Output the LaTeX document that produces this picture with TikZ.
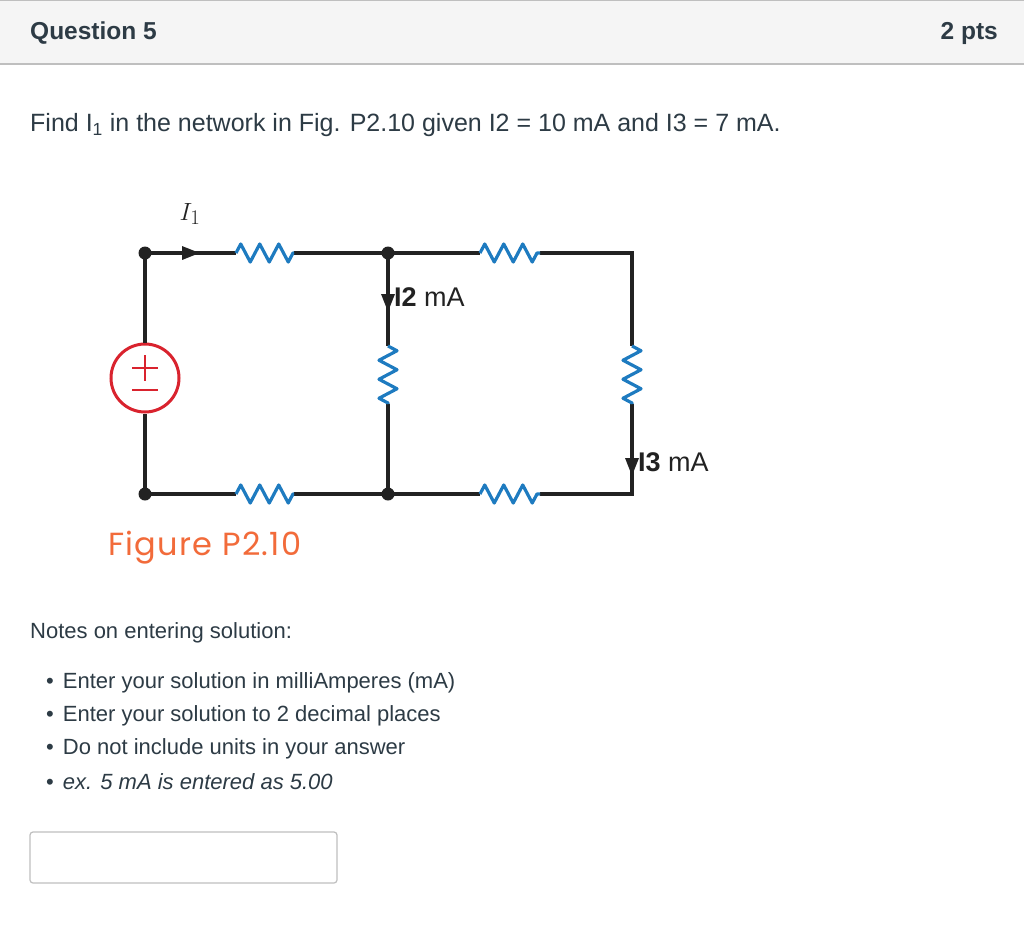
\documentclass[tikz,border=0pt]{standalone}
\usepackage{fontspec}
\setmainfont{Liberation Sans}
\newfontfamily\figfont[LetterSpace=4]{Poppins}
\usetikzlibrary{decorations.pathmorphing,arrows.meta}
\definecolor{hdr}{HTML}{F5F5F5}
\definecolor{txt}{HTML}{2D3B45}
\definecolor{resb}{HTML}{1E7BC0}
\definecolor{srcred}{HTML}{D9232E}
\definecolor{figor}{HTML}{F26B3A}
\definecolor{wire}{HTML}{222222}
\tikzset{
  wr/.style={draw=wire,line width=3.2pt},
  res/.style={draw=resb,line width=3.2pt,line join=round,decorate,decoration={zigzag,segment length=19pt,amplitude=9pt}},
  dot/.style={circle,fill=wire,inner sep=0pt,minimum size=13pt},
  body/.style={anchor=west,text=txt,font=\fontsize{22}{26}\selectfont,inner sep=0pt},
  arr/.style={-{Triangle[length=18pt,width=13pt]},draw=wire,line width=3.2pt}
}
\begin{document}
\begin{tikzpicture}[x=1pt,y=-1pt]
\useasboundingbox (0,0) rectangle (1024,924);
\fill[white] (0,0) rectangle (1024,924);
\fill[hdr] (0,0) rectangle (1024,64);
\draw[line width=1.5pt,draw=black!25] (0,64) -- (1024,64);
\draw[line width=1.5pt,draw=black!25] (0,0) -- (1024,0);
\node[body,font=\bfseries\fontsize{24.5}{28}\selectfont] (q) at (30,33) {Question 5};
\node[body,anchor=east,font=\bfseries\fontsize{24.5}{28}\selectfont] (pts) at (998,33) {2 pts};
\node[body,font=\fontsize{25}{29}\selectfont] (find) at (30,125) {Find I\textsubscript{1} in the network in Fig. P2.10 given I2 = 10 mA and I3 = 7 mA.};
% circuit
\coordinate (TL) at (145,253); \coordinate (TM) at (388,253); \coordinate (TR) at (632,253);
\coordinate (BL) at (145,494); \coordinate (BM) at (388,494); \coordinate (BR) at (632,494);
\coordinate (r1a) at (236,253); \coordinate (r1b) at (294,253);
\coordinate (r2a) at (480,253); \coordinate (r2b) at (540,253);
\coordinate (r3a) at (236,494); \coordinate (r3b) at (294,494);
\coordinate (r4a) at (480,494); \coordinate (r4b) at (540,494);
\coordinate (r5a) at (388,346); \coordinate (r5b) at (388,404);
\coordinate (r6a) at (632,346); \coordinate (r6b) at (632,404);
\node[circle,draw=srcred,line width=3pt,minimum size=68pt,inner sep=0pt] (src) at (145,378) {};
\draw[srcred,line width=2pt] (132,368) -- (158,368) (145,355) -- (145,381) (132,390) -- (158,390);
\draw[wr] (src.north) -- (TL) -- (r1a);
\draw[arr] (TL) -- (200,253);
\draw[wr] (r1b) -- (TM) -- (r2a) (r2b) -- (TR) -- (r6a) (r6b) -- (BR) -- (r4b) (r4a) -- (BM) -- (r3b) (r3a) -- (BL) -- (src.south);
\draw[wr] (TM) -- (r5a) (r5b) -- (BM);
\draw[arr] (TM) -- (388,312);
\draw[arr] (r6b) -- (632,476);
\draw[res] (r1a) -- (r1b); \draw[res] (r2a) -- (r2b); \draw[res] (r3a) -- (r3b); \draw[res] (r4a) -- (r4b);
\draw[res] (r5a) -- (r5b); \draw[res] (r6a) -- (r6b);
\foreach \p in {TL,TM,BL,BM} \node[dot] at (\p) {};
\node[font=\fontsize{30}{34}\selectfont\rmfamily,text=wire] (i1) at (190,214) {$I_1$};
\node[anchor=west,inner sep=0pt,font=\fontsize{27}{30}\selectfont,text=wire] (i2) at (394,297) {\textbf{I2} mA};
\node[anchor=west,inner sep=0pt,font=\fontsize{27}{30}\selectfont,text=wire] (i3) at (638,462) {\textbf{I3} mA};
\node[anchor=west,inner sep=0pt,font=\figfont\fontsize{32}{36}\selectfont,text=figor] (fig) at (108,548) {Figure P2.10};
% notes
\node[body] (notes) at (30,633) {Notes on entering solution:};
\node[body] (b1) at (46,683) {\textbullet\hspace{9pt}Enter your solution in milliAmperes (mA)};
\node[body] (b2) at (46,716) {\textbullet\hspace{9pt}Enter your solution to 2 decimal places};
\node[body] (b3) at (46,749) {\textbullet\hspace{9pt}Do not include units in your answer};
\node[body] (b4) at (46,782) {\textbullet\hspace{9pt}\textit{ex. 5 mA is entered as 5.00}};
\draw[draw=black!25,line width=1.2pt,rounded corners=3pt] (30,832) rectangle (337,883);
\end{tikzpicture}
\end{document}
